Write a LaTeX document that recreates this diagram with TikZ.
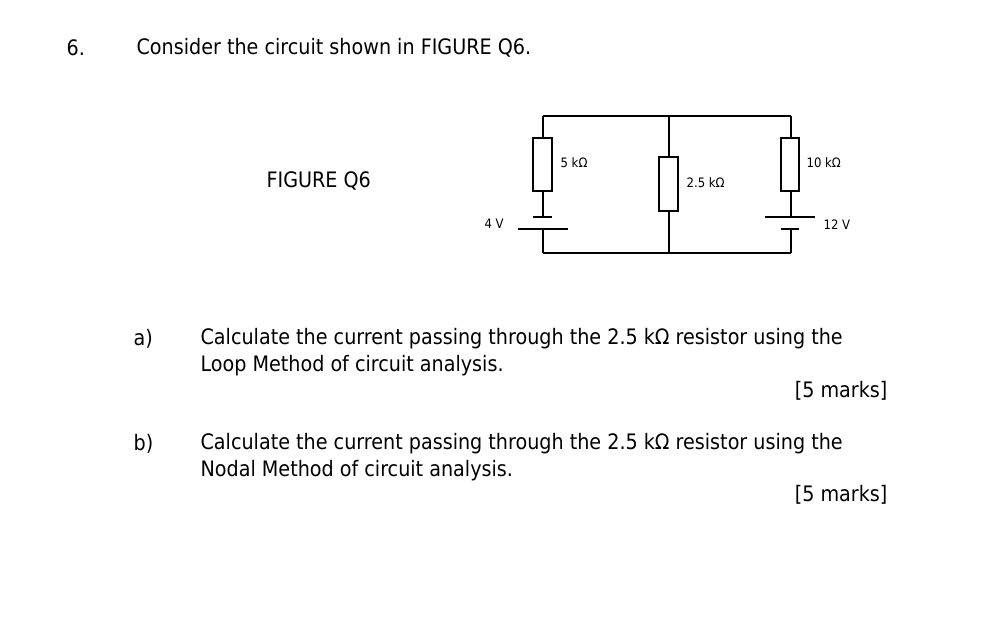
\documentclass[tikz,border=0pt]{standalone}
\usepackage{fontspec}
\setmainfont{DejaVu Sans Condensed}
\begin{document}
\begin{tikzpicture}[x=1pt,y=-1pt,line width=1.2pt,
  txt/.style={anchor=west,inner sep=0,font=\fontsize{21.3}{25}\selectfont},
  sm/.style={anchor=west,inner sep=0,font=\fontsize{13}{15}\selectfont},
  res/.style={draw,fill=white,line width=1.1pt}]
\useasboundingbox (0,0) rectangle (996,616);
\node[txt] (n6) at (66,48) {6.};
\node[txt] (q) at (136,48) {Consider the circuit shown in FIGURE Q6.};
\node[txt] (fig) at (266,181) {FIGURE Q6};
% wires
\coordinate (tl) at (543,116); \coordinate (tm) at (669,116); \coordinate (tr) at (791,116);
\coordinate (bl) at (543,253); \coordinate (bm) at (669,253); \coordinate (br) at (791,253);
\draw (tl) -- (tr); \draw (bl) -- (br); \draw (tm) -- (bm);
\draw (tl) -- (543,217); \draw (543,229) -- (bl);
\draw (tr) -- (791,217); \draw (791,229) -- (br);
% resistors
\draw[res] (533,138) rectangle (552,191);
\draw[res] (659,157) rectangle (678,211);
\draw[res] (781,138) rectangle (799,191);
% batteries
\draw (533,217) -- (552,217); \draw (518,229) -- (568,229);
\draw (765,217) -- (815,217); \draw (781,229) -- (799,229);
\node[sm] (r1) at (560,163) {5 kΩ};
\node[sm] (r2) at (686,183) {2.5 kΩ};
\node[sm] (r3) at (806,163) {10 kΩ};
\node[sm] (v1) at (484,224) {4 V};
\node[sm] (v2) at (823,225) {12 V};
% questions
\node[txt] (a) at (133,339) {a)};
\node[txt] (a1) at (200,339) {Calculate the current passing through the 2.5 kΩ resistor using the};
\node[txt] (a2) at (200,366) {Loop Method of circuit analysis.};
\node[txt,anchor=east] (m1) at (888,391) {[5 marks]};
\node[txt] (b) at (133,444) {b)};
\node[txt] (b1) at (200,444) {Calculate the current passing through the 2.5 kΩ resistor using the};
\node[txt] (b2) at (200,471) {Nodal Method of circuit analysis.};
\node[txt,anchor=east] (m2) at (888,495) {[5 marks]};
\end{tikzpicture}
\end{document}
